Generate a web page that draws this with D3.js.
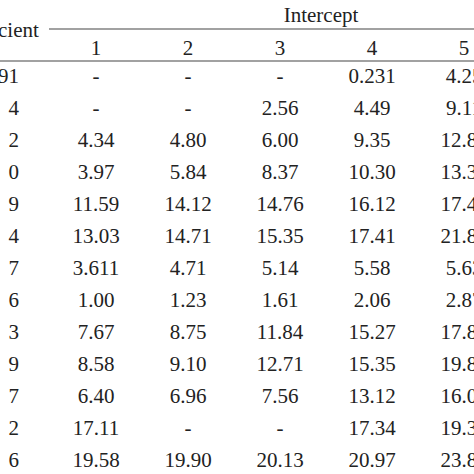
<!DOCTYPE html>
<html><head><meta charset="utf-8">
<script src="https://cdn.jsdelivr.net/npm/d3@7"></script>
<style>body{margin:0;background:#fff}svg{display:block}text{font-family:'Times New Roman','Liberation Serif',serif;font-size:21px;fill:#222}</style>
</head><body><svg id="t" width="474" height="474"></svg>
<script>
var columns = ["1", "2", "3", "4", "5"]
var rowLabels = ["91", "4", "2", "0", "9", "4", "7", "6", "3", "9", "7", "2", "6"]
var col1 = ["-", "-", "4.34", "3.97", "11.59", "13.03", "3.611", "1.00", "7.67", "8.58", "6.40", "17.11", "19.58"]
var col2 = ["-", "-", "4.80", "5.84", "14.12", "14.71", "4.71", "1.23", "8.75", "9.10", "6.96", "-", "19.90"]
var col3 = ["-", "2.56", "6.00", "8.37", "14.76", "15.35", "5.14", "1.61", "11.84", "12.71", "7.56", "-", "20.13"]
var col4 = ["0.231", "4.49", "9.35", "10.30", "16.12", "17.41", "5.58", "2.06", "15.27", "15.35", "13.12", "17.34", "20.97"]
var col5 = ["4.25", "9.11", "12.83", "13.36", "17.41", "21.80", "5.63", "2.87", "17.80", "19.84", "16.06", "19.31", "23.89"]
var cols = [col1, col2, col3, col4, col5]

var svg = d3.select('#t')
var x = d3.scalePoint().domain(columns).range([96, 464])
var y = d3.scalePoint().domain(d3.range(rowLabels.length)).range([83, 467])

svg.append('text').attr('x', 321).attr('y', 22).attr('text-anchor', 'middle').text('Intercept')
svg.append('text').attr('x', -2).attr('y', 37).text('cient')
svg.append('line').attr('x1', 49).attr('x2', 474).attr('y1', 29).attr('y2', 29).attr('stroke', '#444').attr('stroke-width', 1.2)
svg.append('line').attr('x1', 0).attr('x2', 474).attr('y1', 61).attr('y2', 61).attr('stroke', '#444').attr('stroke-width', 1.2)

svg.selectAll('.hd').data(columns).enter().append('text')
  .attr('x', function(d) { return x(d) }).attr('y', 55).attr('text-anchor', 'middle').text(function(d) { return d })

svg.selectAll('.rl').data(rowLabels).enter().append('text')
  .attr('x', 19).attr('y', function(d, i) { return y(i) }).attr('text-anchor', 'end').text(function(d) { return d })

cols.forEach(function(vals, c) {
  svg.selectAll('.c' + c).data(vals).enter().append('text')
    .attr('x', x(columns[c])).attr('y', function(d, i) { return y(i) })
    .attr('text-anchor', 'middle').text(function(d) { return d })
})
</script></body></html>
